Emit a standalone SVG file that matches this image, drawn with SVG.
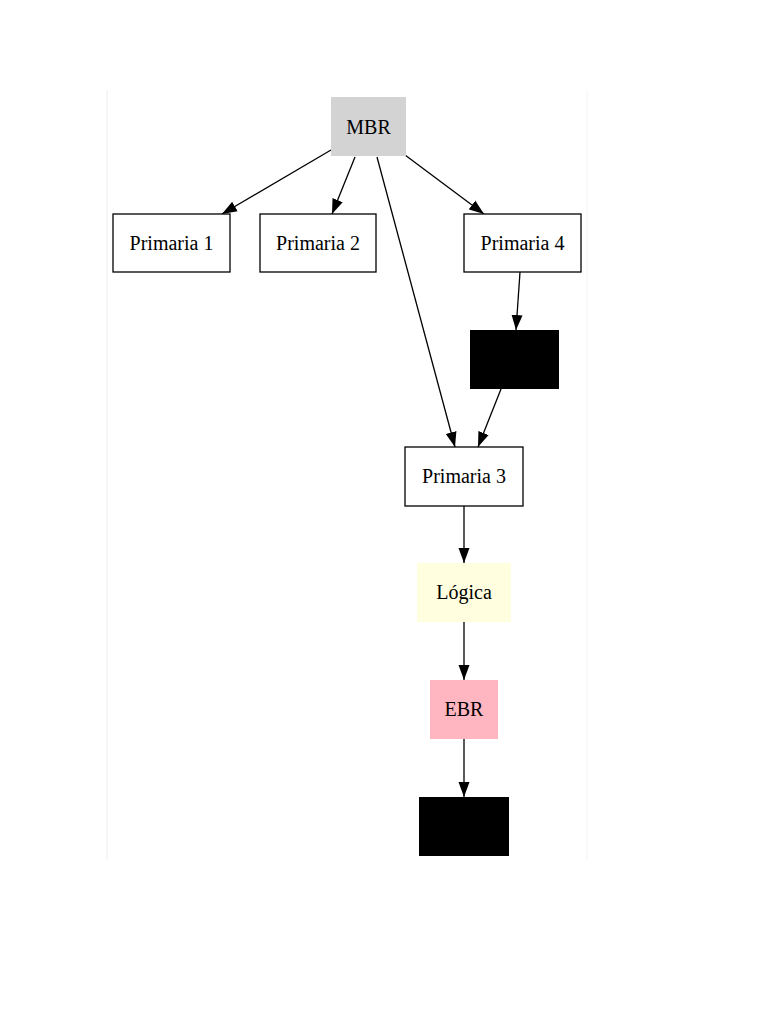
<svg xmlns="http://www.w3.org/2000/svg" width="768" height="1024" viewBox="0 0 768 1024">
<style>
.n{fill:#fff;stroke:#000;stroke-width:1.3}
.t{font-family:"Liberation Serif",serif;font-size:20px;text-anchor:middle;fill:#000}
.e{stroke:#000;stroke-width:1.3;fill:none;marker-end:url(#a)}
</style>
<defs><marker id="a" markerWidth="15" markerHeight="12" viewBox="0 0 15 12" refX="15" refY="6" orient="auto" markerUnits="userSpaceOnUse"><path d="M0,0.5 L15,6 L0,11.5 z" fill="#000"/></marker>
</defs>
<rect width="768" height="1024" fill="#fff"/>
<line x1="107" y1="90" x2="107" y2="860" stroke="#eee"/>
<line x1="587" y1="90" x2="587" y2="860" stroke="#f4f4f4"/>
<g id="connectors">
<line class="e" x1="331" y1="150" x2="222" y2="214"/>
<line class="e" x1="355" y1="157" x2="332" y2="214"/>
<line class="e" x1="377" y1="157" x2="455" y2="447"/>
<line class="e" x1="405" y1="155" x2="484" y2="214"/>
<line class="e" x1="520" y1="272" x2="516" y2="330"/>
<line class="e" x1="501" y1="389" x2="478" y2="447"/>
<line class="e" x1="464" y1="506" x2="464" y2="563"/>
<line class="e" x1="464" y1="622" x2="464" y2="680"/>
<line class="e" x1="464" y1="739" x2="464" y2="797"/>
</g>
<g id="mbr"><rect x="331" y="97" width="75" height="59" fill="#d3d3d3"/><text class="t" x="368.5" y="134">MBR</text></g>
<g id="p1"><rect class="n" x="113" y="214" width="117" height="58"/><text class="t" x="171.5" y="250">Primaria 1</text></g>
<g id="p2"><rect class="n" x="260" y="214" width="116" height="58"/><text class="t" x="318" y="250">Primaria 2</text></g>
<g id="p4"><rect class="n" x="464" y="214" width="117" height="58"/><text class="t" x="522.5" y="250">Primaria 4</text></g>
<g id="b1"><rect x="470" y="330" width="89" height="59" fill="#000"/></g>
<g id="p3"><rect class="n" x="405" y="447" width="118" height="59"/><text class="t" x="464" y="483">Primaria 3</text></g>
<g id="logica"><rect x="417" y="563" width="94" height="59" fill="#ffffe0"/><text class="t" x="464" y="599">Lógica</text></g>
<g id="ebr"><rect x="430" y="680" width="68" height="59" fill="#ffb6c1"/><text class="t" x="464" y="716">EBR</text></g>
<g id="b2"><rect x="419" y="797" width="90" height="59" fill="#000"/></g>
</svg>
